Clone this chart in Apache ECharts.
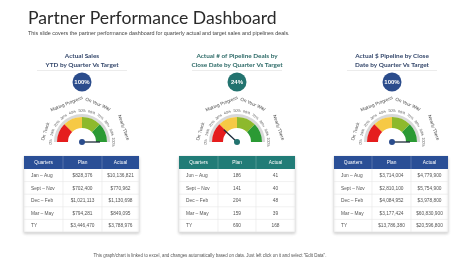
<!DOCTYPE html>
<html><head><meta charset="utf-8">
<script src="https://cdn.jsdelivr.net/npm/echarts@6/dist/echarts.min.js"></script>
<style>html,body{margin:0;padding:0;background:#fff}#c{width:474px;height:266px}</style>
</head><body><div id="c"></div><script>
// ---- data ----
const pageTitle = 'Partner Performance Dashboard';
const pageSubtitle = 'This slide covers the partner performance dashboard for quarterly actual and target sales and pipelines deals.';
const footerNote = 'This graph/chart is linked to excel, and changes automatically based on data. Just left click on it and select "Edit Data".';
const panelTitles = [
  ['Actual Sales', 'YTD by Quarter Vs Target'],
  ['Actual # of Pipeline Deals by', 'Close Date by Quarter Vs Target'],
  ['Actual $ Pipeline by Close', 'Date by Quarter Vs Target']
];
const gaugeValues = [100, 24, 100];
const zoneLabels = ['On Track', 'Making Progress', 'On Your Way', 'Nearly There'];
const zoneStops = [0.25, 0.5, 0.75, 1];
const columnHeaders = ['Quarters', 'Plan', 'Actual'];
const quarters1 = ['Jan – Aug', 'Sept – Nov', 'Dec – Feb', 'Mar – May', 'TY'];
const quarters2 = ['Jun – Aug', 'Sept – Nov', 'Dec – Feb', 'Mar – May', 'TY'];
const quarters3 = ['Jun – Aug', 'Sept – Nov', 'Dec – Feb', 'Mar – May', 'TY'];
const plan1 = ['$828,376', '$702,400', '$1,021,113', '$794,281', '$3,446,470'];
const actual1 = ['$10,136,821', '$770,962', '$1,130,698', '$849,095', '$3,788,976'];
const plan2 = ['186', '141', '204', '159', '690'];
const actual2 = ['41', '40', '48', '39', '168'];
const plan3 = ['$3,714,004', '$2,810,100', '$4,084,952', '$3,177,424', '$13,786,380'];
const actual3 = ['$4,779,900', '$5,754,900', '$3,978,800', '$60,830,900', '$20,596,800'];

// ---- layout / style ----
const FONT_HEAD = 'Lato';
const FONT_BODY = 'Liberation Sans';
const panels = [
  { cx: 82, cols: [24, 63, 102, 139], accent: '#2B4C8C', head: '#2A4F96', titleColor: '#34476B', q: quarters1, p: plan1, a: actual1 },
  { cx: 237, cols: [179, 218, 256, 295], accent: '#23736F', head: '#217C77', titleColor: '#2E6B68', q: quarters2, p: plan2, a: actual2 },
  { cx: 392, cols: [334, 372, 411, 448], accent: '#2B4C8C', head: '#2A4F96', titleColor: '#34476B', q: quarters3, p: plan3, a: actual3 }
];
const gaugeCY = 142;
const zoneColors = ['#E51D1D', '#F6C945', '#8DB92C', '#2B9A34'];
const zoneAngles = [164, 112, 67, 19];
const zoneRadii = [38, 41, 41, 44];
const tableTop = 156, headH = 13, rowH = 12.6;

const g = [];
function txt(x, y, text, o) {
  g.push({ type: 'text', x: x, y: y, rotation: o.rot || 0, silent: true, z: o.z || 10,
    style: { text: text, fontSize: o.size, fontFamily: o.family || FONT_BODY, fontWeight: o.weight || 'normal',
      fill: o.color || '#444', align: o.align || 'left', verticalAlign: 'middle',
      textAlign: o.align || 'left', textVerticalAlign: 'middle' } });
}
txt(28, 18, pageTitle, { size: 17.6, family: FONT_HEAD, color: '#2a2a2a' });
txt(28, 34, pageSubtitle, { size: 5.4, color: '#444' });
txt(210, 256, footerNote, { size: 4.45, color: '#555', align: 'center' });

const series = [];
panels.forEach((P, i) => {
  // titles
  txt(P.cx, 56, panelTitles[i][0], { size: 6.4, family: FONT_HEAD, weight: 'bold', color: P.titleColor, align: 'center' });
  txt(P.cx, 65, panelTitles[i][1], { size: 6.4, family: FONT_HEAD, weight: 'bold', color: P.titleColor, align: 'center' });
  g.push({ type: 'line', silent: true, shape: { x1: P.cx - 45, y1: 70.5, x2: P.cx + 45, y2: 70.5 }, style: { stroke: '#ececec', lineWidth: 1 } });
  // badge
  g.push({ type: 'circle', silent: true, shape: { cx: P.cx, cy: 82, r: 9.5 }, style: { fill: P.accent } });
  txt(P.cx, 82.5, gaugeValues[i] + '%', { size: 6, weight: 'bold', color: '#fff', align: 'center', z: 11 });
  // zone labels
  zoneLabels.forEach((lab, k) => {
    const a = zoneAngles[k] * Math.PI / 180;
    txt(P.cx + zoneRadii[k] * Math.cos(a), gaugeCY - zoneRadii[k] * Math.sin(a), lab,
      { size: 4.6, color: '#444', align: 'center', rot: a - Math.PI / 2 });
  });
  // table
  const c = P.cols, W = c[3] - c[0], H = headH + rowH * 5;
  g.push({ type: 'rect', silent: true, shape: { x: c[0], y: tableTop, width: W, height: H },
    style: { fill: '#fff', stroke: '#e3e3e3', lineWidth: 0.6, shadowBlur: 3, shadowColor: 'rgba(0,0,0,0.18)', shadowOffsetY: 1.5 } });
  g.push({ type: 'rect', silent: true, shape: { x: c[0], y: tableTop, width: W, height: headH }, style: { fill: P.head } });
  for (let k = 1; k < 3; k++) {
    g.push({ type: 'line', silent: true, shape: { x1: c[k], y1: tableTop, x2: c[k], y2: tableTop + headH }, style: { stroke: 'rgba(255,255,255,0.35)', lineWidth: 0.6 } });
    g.push({ type: 'line', silent: true, shape: { x1: c[k], y1: tableTop + headH, x2: c[k], y2: tableTop + H }, style: { stroke: '#e6e6e6', lineWidth: 0.6 } });
  }
  for (let r = 1; r < 5; r++) {
    const y = tableTop + headH + r * rowH;
    g.push({ type: 'line', silent: true, shape: { x1: c[0], y1: y, x2: c[3], y2: y }, style: { stroke: '#e6e6e6', lineWidth: 0.6 } });
  }
  columnHeaders.forEach((h, k) => txt((c[k] + c[k + 1]) / 2, tableTop + headH / 2 + 0.3, h, { size: 4.8, color: '#fff', align: 'center' }));
  for (let r = 0; r < 5; r++) {
    const y = tableTop + headH + r * rowH + rowH / 2 + 0.3;
    txt(c[0] + 7, y, P.q[r], { size: 4.8, color: '#555' });
    txt((c[1] + c[2]) / 2, y, P.p[r], { size: 4.8, color: '#555', align: 'center' });
    txt((c[2] + c[3]) / 2, y, P.a[r], { size: 4.8, color: '#555', align: 'center' });
  }
  // gauges
  const base = { type: 'gauge', center: [P.cx, gaugeCY], startAngle: 180, endAngle: 0, min: 0, max: 100, splitNumber: 10,
    splitLine: { show: false, length: 0, distance: 0 }, axisTick: { show: false }, detail: { show: false }, title: { show: false },
    silent: true, animation: false };
  series.push(Object.assign({}, base, { radius: 28, axisLine: { lineStyle: { width: 3, color: [[1, '#D8D8D8']] } },
    axisLabel: { show: false }, pointer: { show: false }, anchor: { show: false }, data: [{ value: 0 }] }));
  series.push(Object.assign({}, base, { radius: 31, axisLine: { show: false },
    axisLabel: { show: true, distance: 0, fontSize: 3.6, color: '#555', formatter: '{value}%', rotate: 'tangential', fontFamily: FONT_BODY },
    pointer: { show: false }, anchor: { show: false }, data: [{ value: 0 }] }));
  series.push(Object.assign({}, base, { radius: 25,
    axisLine: { lineStyle: { width: 11, color: zoneStops.map((s, k) => [s, zoneColors[k]]) } },
    axisLabel: { show: false },
    pointer: { show: true, icon: 'rect', length: 18, width: 1.3, offsetCenter: [0, 0], itemStyle: { color: '#1D2A3A' } },
    anchor: { show: true, showAbove: true, size: 6, itemStyle: { color: P.accent } },
    data: [{ value: gaugeValues[i] }] }));
});

const chart = echarts.init(document.getElementById('c'), null, { renderer: 'canvas' });
chart.setOption({ animation: false, backgroundColor: '#fff', series: series, graphic: { elements: g } });
</script></body></html>
